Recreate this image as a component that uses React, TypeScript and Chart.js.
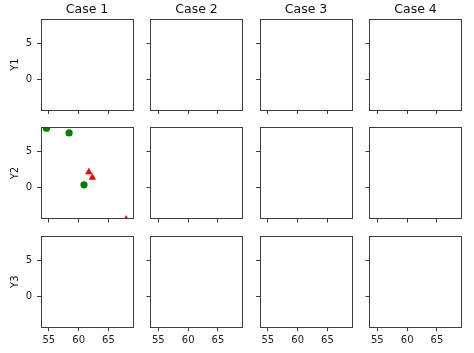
import React, { useEffect, useRef } from 'react';
import { Chart, registerables } from 'chart.js';

Chart.register(...registerables);

// ---- data ----
const caseTitles = ['Case 1', 'Case 2', 'Case 3', 'Case 4'];
const rowLabels = ['Y1', 'Y2', 'Y3'];
const xTickValues = [55, 60, 65];
const yTickValues = [0, 5];
const xMin = 53.6;
const xMax = 69.2;
const yMin = -4.35;
const yMax = 8.42;
const greenX = [54.6, 58.4, 60.9];
const greenY = [8.25, 7.6, 0.4];
const redX = [61.7, 62.3, 67.95];
const redY = [2.15, 1.4, -4.4];

// ---- layout ----
const W = 474;
const H = 353;
const colLeft = [40.5, 150, 259.5, 369];
const rowTop = [18.5, 127, 235.7];
const panelW = 93;
const panelH = 92;
const yAxisW = 36;
const xAxisH = 24;
const FONT = 'DejaVu Sans';
const EDGE = '#3c3c3c';

function Panel({ row, col }: { row: number; col: number }) {
  const ref = useRef<HTMLCanvasElement>(null);
  useEffect(() => {
    if (!ref.current) return;
    const left = colLeft[col];
    const top = rowTop[row];
    const hasData = row === 1 && col === 0;
    const datasets: any[] = hasData
      ? [
          {
            data: greenX.map((x, i) => ({ x, y: greenY[i] })),
            pointStyle: 'circle',
            pointRadius: 3.6,
            backgroundColor: '#008000',
            borderColor: '#008000',
            borderWidth: 0,
            clip: 0,
          },
          {
            data: redX.map((x, i) => ({ x, y: redY[i] })),
            pointStyle: 'triangle',
            pointRadius: 4.3,
            backgroundColor: '#ff0000',
            borderColor: '#ff0000',
            borderWidth: 0,
            clip: 0,
          },
        ]
      : [];
    const chart = new Chart(ref.current, {
      type: 'scatter',
      data: { datasets },
      options: {
        animation: false,
        responsive: false,
        events: [],
        layout: {
          padding: {
            left: left - yAxisW,
            top: top,
            right: W - (left + panelW),
            bottom: H - (top + panelH) - xAxisH,
          },
        },
        plugins: {
          legend: { display: false },
          tooltip: { enabled: false },
          title: { display: false },
        },
        scales: {
          x: {
            type: 'linear',
            min: xMin,
            max: xMax,
            afterBuildTicks: (s: any) => {
              s.ticks = xTickValues.map((v) => ({ value: v }));
            },
            afterFit: (s: any) => {
              s.height = xAxisH;
            },
            grid: { drawOnChartArea: false, drawTicks: true, tickLength: 3.5, color: EDGE, lineWidth: 1 },
            border: { display: false },
            ticks: {
              autoSkip: false,
              maxRotation: 0,
              padding: 3,
              color: '#222',
              font: { family: FONT, size: 10 },
              callback: (v: any) => (row === 2 ? String(v) : ''),
            },
          },
          y: {
            type: 'linear',
            min: yMin,
            max: yMax,
            afterBuildTicks: (s: any) => {
              s.ticks = yTickValues.map((v) => ({ value: v }));
            },
            afterFit: (s: any) => {
              s.width = yAxisW;
            },
            grid: { drawOnChartArea: false, drawTicks: true, tickLength: 3.5, color: EDGE, lineWidth: 1 },
            border: { display: false },
            ticks: {
              autoSkip: false,
              padding: 5,
              color: '#222',
              font: { family: FONT, size: 10 },
              callback: (v: any) => (col === 0 ? String(v) : ''),
            },
          },
        },
      } as any,
      plugins: [
        {
          id: 'frame',
          afterDraw(c: any) {
            const ctx = c.ctx;
            const a = c.chartArea;
            ctx.save();
            ctx.strokeStyle = EDGE;
            ctx.lineWidth = 1;
            const l = Math.round(a.left) + 0.5;
            const t = Math.round(a.top) + 0.5;
            const r = Math.round(a.right) - 0.5;
            const b = Math.round(a.bottom) - 0.5;
            ctx.strokeRect(l, t, r - l, b - t);
            ctx.fillStyle = '#111';
            if (row === 0) {
              ctx.font = `12.5px "${FONT}"`;
              ctx.textAlign = 'center';
              ctx.textBaseline = 'alphabetic';
              ctx.fillText(caseTitles[col], (a.left + a.right) / 2, a.top - 5.3);
            }
            if (col === 0) {
              ctx.font = `10px "${FONT}"`;
              ctx.textAlign = 'center';
              ctx.textBaseline = 'middle';
              ctx.translate(a.left - 25.5, (a.top + a.bottom) / 2);
              ctx.rotate(-Math.PI / 2);
              ctx.fillText(rowLabels[row], 0, 0);
            }
            ctx.restore();
          },
        },
      ],
    });
    return () => chart.destroy();
  }, [row, col]);
  return (
    <canvas
      ref={ref}
      width={W}
      height={H}
      style={{ position: 'absolute', left: 0, top: 0, width: W, height: H }}
    />
  );
}

export default function App() {
  const panels: React.ReactNode[] = [];
  for (let r = 0; r < rowLabels.length; r++) {
    for (let c = 0; c < caseTitles.length; c++) {
      panels.push(<Panel key={`${r}-${c}`} row={r} col={c} />);
    }
  }
  return (
    <div style={{ position: 'fixed', left: 0, top: 0, width: W, height: H, background: '#fff' }}>
      {panels}
    </div>
  );
}
